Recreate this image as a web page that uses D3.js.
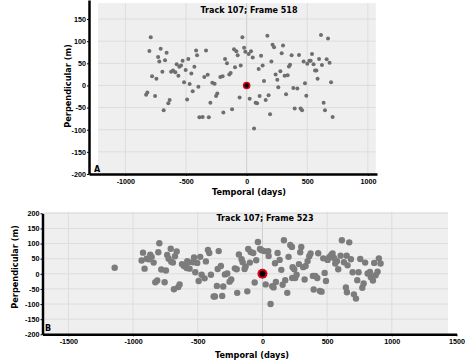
<!DOCTYPE html>
<html>
<head>
<meta charset="utf-8">
<script src="https://cdn.jsdelivr.net/npm/d3@7"></script>
<style>
  body { margin: 0; background: #fff; }
  svg { display: block; font-family: "DejaVu Sans", Verdana, sans-serif; }
  .axis text { font-size: 7.2px; font-weight: bold; fill: #000; }
  .axis path { stroke: #000; stroke-width: 2.5; }
  .axis line { stroke: #000; }
</style>
</head>
<body>
<script>
const w = 474, h = 362;

// panel A: Track 107; Frame 518
const aTemporal = [-791, -802, -709, -660, -730, -720, -673, -695, -780, -744, -819, -829, -755, -635, -646, -684,
  -577, -555, -541, -528, -481, -623, -607, -588, -563, -503, -456, -431, -417, -409, -516, -470, -398, -445, -491, -390,
  -335, -349, -321, -283, -264, -242, -252, -299, -363, -312, -178, -162, -217, -198, -143, -132, -96, -49,
  -104, -85, -74, -35, -21, -11, 17, 36, 50, -58, -120, -192, 25, 61, 74, 86, 107, 99, 132, 119, 143, 157, 181, 193,
  171, 204, 214, 226, 300, 289, 239, 253, 278, 313, 338, 261, 325, 349, 358, 371, 432, 385, 418, 396, 445, 457,
  481, 492, 470, 500, 517, 528, 539, 552, 564, 575, 585, 597, 621, 613, 671, 660, 684, 696, 635, 646, 709];
const aPerp = [109, 78, 83, 74, 64, 54, 57, 31, 21, 15, -16, -21, -24, -33, -40, -56,
  48, 42, 45, 56, 60, 31, 34, 30, 22, 35, 27, 42, 79, 68, 7, 3, -3, -13, -32, -72,
  79, 19, 24, 6, 4, -18, -24, -39, -71, -72, 60, 50, 19, 21, 25, 28, 41, 45,
  82, 77, 68, 109, 85, 76, 71, 77, 63, -27, -54, -61, -30, -97, -39, -40, -24, 37, 45, 67, 10, -33, -22, -65,
  112, 54, 92, 86, 90, 73, 25, 13, 32, 22, 23, -4, -20, 43, 47, 68, 69, -6, -7, -52, -52, -56,
  5, -23, 54, 49, 56, 56, 71, 48, 34, 34, 15, 60, 46, 114, 106, 59, 51, 7, -39, -56, -71];

// panel B: Track 107; Frame 523
const bTemporal = [-1142, -923, -934, -911, -895, -867, -856, -880, -841, -797, -805, -782, -746, -813, -828, -756,
  -736, -709, -663, -725, -705, -692, -676, -640, -651, -684, -622, -607, -581, -570, -586, -563, -535, -529,
  -504, -481, -519, -493, -470, -447, -437, -411, -421, -398, -338, -321, -346, -367, -377, -311, -352, -303,
  -290, -272, -241, -254, -195, -182, -161, -213, -199, -153, -117, -110, -91, -71, -35, -19, -6, 14, 45, 48,
  -130, -138, -97, -48, -60, 25, 63, 76, 86, 104, 97, 117, 133, 146, 156, 166, 192, 176, 202, 215, 228, 233, 246,
  230, 253, 264, 282, 292, 300, 315, 334, 326, 349, 362, 372, 390, 408, 424, 396, 444, 457, 431, 470, 481, 491,
  504, 516, 532, 542, 553, 563, 576, 586, 604, 614, 630, 645, 653, 651, 658, 671, 684, 697, 743, 733, 782, 772,
  707, 723, 756, 794, 813, 831, 838, 854, 875, 890, 864, 900, 913];
const bPerp = [20, 70, 44, 17, 50, 63, 56, 48, 37, 101, 71, 14, 11, -22, -28, -28,
  62, 83, 74, 50, 40, 37, 58, -35, -44, -51, 32, 26, 42, 38, 19, 17, 38, 54,
  36, 56, 5, -24, -3, -15, 41, 69, 79, -3, 75, 26, 16, -75, -75, -73, -40, -42,
  -2, 1, -19, -26, -63, 64, 48, 18, 15, 38, -58, 82, 72, 69, 105, 82, 78, 75, 75, 59,
  24, 16, 37, 45, -29, -35, -100, -41, -45, -27, 35, 69, 46, 13, -36, 111, -63, -21, 56, 95, 89, 22, 15,
  -14, -14, -3, 32, 71, 89, 22, 26, -19, 42, 58, 67, -7, -7, -14, -52, -57, -59, 68, 51, 3, -24,
  46, 55, 62, 67, 52, 34, 42, 15, 60, 111, 38, -45, -61, 60, 28, 104, 48, 5, 5, -21, -32, -46,
  -68, -82, 49, 37, 1, 6, -11, -22, -5, 7, 36, 51, 34];

const aXTicks = [-1000, -500, 0, 500, 1000];
const aYTicks = [-200, -150, -100, -50, 0, 50, 100, 150];
const bXTicks = [-1500, -1000, -500, 0, 500, 1000, 1500];
const bYTicks = [-200, -150, -100, -50, 0, 50, 100, 150, 200];

const plain = d => String(d);

const svg = d3.select("body").append("svg")
  .attr("width", w)
  .attr("height", h);

function panel(opt) {
  const xScale = d3.scaleLinear().domain(opt.xDomain).range(opt.xRange);
  const yScale = d3.scaleLinear().domain(opt.yDomain).range(opt.yRange);
  const g = svg.append("g");

  // gray plot background
  g.append("rect")
    .attr("x", xScale(opt.bg[0]))
    .attr("y", yScale(opt.bg[3]))
    .attr("width", xScale(opt.bg[1]) - xScale(opt.bg[0]))
    .attr("height", yScale(opt.bg[2]) - yScale(opt.bg[3]))
    .attr("fill", "#efefef");

  // grid
  g.selectAll(".vgrid")
    .data(opt.xTicks.filter(d => d > opt.bg[0] && d < opt.bg[1]))
    .enter().append("line")
    .attr("x1", d => xScale(d)).attr("x2", d => xScale(d))
    .attr("y1", yScale(opt.bg[3])).attr("y2", yScale(opt.bg[2]))
    .attr("stroke", d => d === 0 ? "#cfcfcf" : "#dddddd")
    .attr("stroke-width", 1);
  g.selectAll(".hgrid")
    .data(opt.yTicks.filter(d => d > opt.bg[2] && d < opt.bg[3]))
    .enter().append("line")
    .attr("x1", xScale(opt.bg[0])).attr("x2", xScale(opt.bg[1]))
    .attr("y1", d => yScale(d)).attr("y2", d => yScale(d))
    .attr("stroke", "#dddddd")
    .attr("stroke-width", 1);

  // points
  g.selectAll(".pt")
    .data(opt.tx)
    .enter().append("circle")
    .attr("cx", d => xScale(d))
    .attr("cy", (d, i) => yScale(opt.ty[i]))
    .attr("r", opt.r)
    .attr("fill", opt.color);

  // reference scene at origin
  g.append("circle")
    .attr("cx", xScale(0)).attr("cy", yScale(0))
    .attr("r", opt.refR)
    .attr("fill", "#e0000f");
  g.append("circle")
    .attr("cx", xScale(0)).attr("cy", yScale(0))
    .attr("r", opt.refR * 0.6)
    .attr("fill", "#000");

  // axes
  g.append("g")
    .attr("class", "axis")
    .attr("transform", "translate(0," + opt.yRange[0] + ")")
    .call(d3.axisBottom(xScale).tickValues(opt.xTicks).tickFormat(plain)
      .tickSize(2).tickSizeOuter(0).tickPadding(3));
  g.append("g")
    .attr("class", "axis")
    .attr("transform", "translate(" + opt.xRange[0] + ",0)")
    .call(d3.axisLeft(yScale).tickValues(opt.yTicks).tickFormat(plain)
      .tickSize(2).tickSizeOuter(0).tickPadding(1));

  // titles
  g.append("text")
    .attr("x", opt.titleX).attr("y", opt.titleY)
    .attr("text-anchor", "middle")
    .attr("font-size", "8px").attr("font-weight", "bold")
    .text(opt.title);
  g.append("text")
    .attr("x", opt.xLabelX).attr("y", opt.xLabelY)
    .attr("text-anchor", "middle")
    .attr("font-size", "8.2px").attr("font-weight", "bold")
    .text("Temporal (days)");
  g.append("text")
    .attr("transform", "translate(" + opt.yLabelX + "," + opt.yLabelY + ") rotate(-90)")
    .attr("text-anchor", "middle")
    .attr("dy", "0.35em")
    .attr("font-size", "8.2px").attr("font-weight", "bold")
    .text("Perpendicular (m)");
  g.append("text")
    .attr("x", opt.letterX).attr("y", opt.letterY)
    .attr("font-size", "8px").attr("font-weight", "bold")
    .text(opt.letter);
}

panel({
  tx: aTemporal, ty: aPerp,
  xDomain: [-1300, 1075], xRange: [89, 377],
  yDomain: [-200, 193], yRange: [174, 0],
  bg: [-1225, 1065, -200, 186],
  xTicks: aXTicks, yTicks: aYTicks,
  r: 2, color: "#6e6e6e", refR: 3.8,
  title: "Track 107; Frame 518", titleX: 249, titleY: 13,
  xLabelX: 249, xLabelY: 195,
  yLabelX: 68, yLabelY: 86,
  letter: "A", letterX: 94, letterY: 172
});

panel({
  tx: bTemporal, ty: bPerp,
  xDomain: [-1700, 1500], xRange: [42.5, 456.5],
  yDomain: [-200, 200], yRange: [334.3, 213.3],
  bg: [-1685, 1434, -200, 205],
  xTicks: bXTicks, yTicks: bYTicks,
  r: 3.2, color: "#7c7c7c", refR: 5,
  title: "Track 107; Frame 523", titleX: 265, titleY: 221,
  xLabelX: 252, xLabelY: 358,
  yLabelX: 15, yLabelY: 267,
  letter: "B", letterX: 45, letterY: 331
});
</script>
</body>
</html>
